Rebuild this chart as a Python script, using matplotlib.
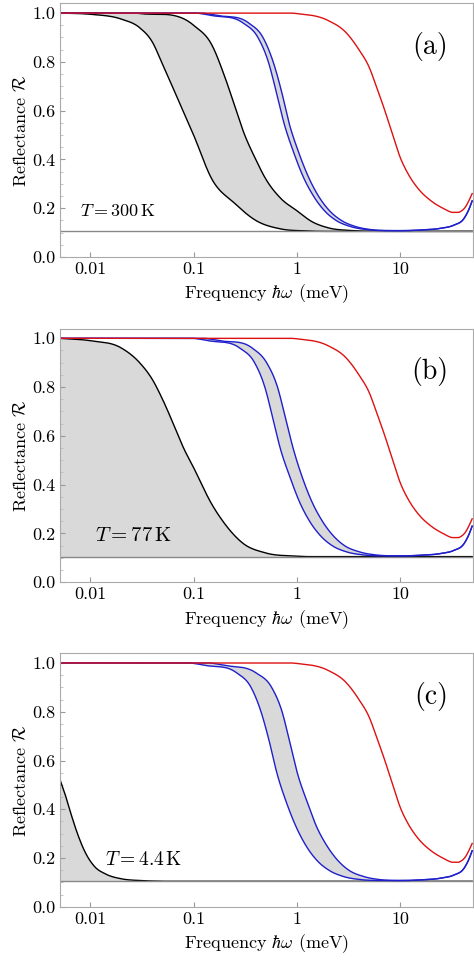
import matplotlib.pyplot as plt
import numpy as np

plt.rcParams['font.family'] = ['cmr10', 'DejaVu Serif']
plt.rcParams['mathtext.fontset'] = 'cm'
plt.rcParams['axes.formatter.use_mathtext'] = True

# red curve (same in all panels)
red_x = [0.005, 0.5, 1.0, 2.0, 3.0, 4.0, 5.0, 6.0, 7.0, 8.5, 10, 12, 15, 20, 26, 32, 38, 43, 47, 50]
red_y = [1.0, 1.0, 0.998, 0.97, 0.92, 0.85, 0.78, 0.69, 0.61, 0.5, 0.41, 0.34, 0.28, 0.23, 0.2, 0.183, 0.185, 0.205, 0.235, 0.26]

base_x = [0.005, 50]
base_y = [0.105, 0.105]

# blue pairs per panel share the same y values
blue_y = [1.0, 0.99, 0.96, 0.9, 0.8, 0.68, 0.55, 0.43, 0.33, 0.25, 0.19, 0.15, 0.125, 0.112, 0.108, 0.11, 0.118, 0.13, 0.16, 0.2, 0.23]
blue_a1 = [0.005, 0.15, 0.3, 0.42, 0.53, 0.63, 0.75, 0.93, 1.15, 1.45, 1.85, 2.4, 3.3, 4.8, 8, 15, 25, 33, 42, 47, 50]
blue_a2 = [0.005, 0.17, 0.34, 0.47, 0.59, 0.71, 0.84, 1.04, 1.29, 1.62, 2.07, 2.7, 3.7, 5.3, 8.5, 15, 25, 33, 42, 47, 50]
blue_b1 = [0.005, 0.14, 0.28, 0.39, 0.49, 0.58, 0.69, 0.86, 1.06, 1.33, 1.7, 2.2, 3.0, 4.4, 7.5, 15, 25, 33, 42, 47, 50]
blue_b2 = [0.005, 0.18, 0.37, 0.51, 0.65, 0.77, 0.92, 1.13, 1.4, 1.77, 2.26, 2.9, 4.0, 5.8, 9, 15, 25, 33, 42, 47, 50]
blue_c1 = [0.005, 0.13, 0.26, 0.36, 0.45, 0.54, 0.64, 0.79, 0.98, 1.23, 1.57, 2.05, 2.8, 4.1, 7, 15, 25, 33, 42, 47, 50]
blue_c2 = [0.005, 0.2, 0.4, 0.57, 0.72, 0.85, 1.01, 1.26, 1.55, 1.96, 2.5, 3.2, 4.4, 6.3, 9.5, 15, 25, 33, 42, 47, 50]

# black curves
blk_a1_x = [0.005, 0.01, 0.02, 0.03, 0.04, 0.05, 0.07, 0.1, 0.15, 0.25, 0.4, 0.7, 1.2, 3, 50]
blk_a1_y = [1.0, 0.995, 0.975, 0.94, 0.88, 0.79, 0.65, 0.5, 0.32, 0.22, 0.15, 0.115, 0.107, 0.105, 0.105]
blk_a2_x = [0.005, 0.03, 0.1, 0.15, 0.2, 0.25, 0.3, 0.4, 0.5, 0.7, 1.0, 1.4, 2.0, 3.5, 8, 50]
blk_a2_y = [1.0, 0.998, 0.95, 0.87, 0.74, 0.62, 0.52, 0.4, 0.32, 0.24, 0.19, 0.145, 0.12, 0.108, 0.105, 0.105]
blk_b_x = [0.005, 0.01, 0.02, 0.03, 0.04, 0.05, 0.065, 0.08, 0.1, 0.15, 0.2, 0.3, 0.5, 1.0, 3, 50]
blk_b_y = [1.0, 0.99, 0.96, 0.9, 0.83, 0.75, 0.64, 0.55, 0.47, 0.32, 0.24, 0.16, 0.12, 0.107, 0.105, 0.105]
blk_c_x = [0.005, 0.0057, 0.0065, 0.0075, 0.009, 0.011, 0.014, 0.02, 0.03, 0.05, 50]
blk_c_y = [0.53, 0.46, 0.38, 0.3, 0.22, 0.165, 0.135, 0.115, 0.108, 0.105, 0.105]

labels = ['(a)', '(b)', '(c)']
temps = [r'$T = 300\,\mathrm{K}$', r'$T = 77\,\mathrm{K}$', r'$T = 4.4\,\mathrm{K}$']
temp_size = [13, 15, 14]
temp_x = [0.008, 0.011, 0.014]
blues = [(blue_a1, blue_a2), (blue_b1, blue_b2), (blue_c1, blue_c2)]

GRID = np.logspace(np.log10(0.005), np.log10(50), 600)


def smooth(xs, ys):
    # cubic hermite through the read points, in log-x
    lx = np.log10(xs)
    ys = np.asarray(ys, float)
    m = np.gradient(ys, lx)
    g = np.log10(GRID)
    k = np.clip(np.searchsorted(lx, g) - 1, 0, len(lx) - 2)
    h = lx[k + 1] - lx[k]
    t = (g - lx[k]) / h
    h00 = 2 * t**3 - 3 * t**2 + 1
    h10 = t**3 - 2 * t**2 + t
    h01 = -2 * t**3 + 3 * t**2
    h11 = t**3 - t**2
    out = h00 * ys[k] + h10 * h * m[k] + h01 * ys[k + 1] + h11 * h * m[k + 1]
    return np.clip(out, min(ys), max(ys))


fig = plt.figure(figsize=(4.74, 9.72), dpi=100)
bottoms = [0.7356, 0.401, 0.067]
gray = '#d9d9d9'

for i in range(3):
    ax = fig.add_axes([0.127, bottoms[i], 0.871, 0.261])
    ax.set_xscale('log')
    ax.set_xlim(0.0051, 51)
    ax.set_ylim(0, 1.04)

    if i == 0:
        y1 = smooth(blk_a1_x, blk_a1_y)
        y2 = smooth(blk_a2_x, blk_a2_y)
        ax.fill_between(GRID, y1, y2, color=gray, lw=0)
        ax.plot(GRID, y1, color='black', lw=1)
        ax.plot(GRID, y2, color='black', lw=1)
    else:
        bx, by = (blk_b_x, blk_b_y) if i == 1 else (blk_c_x, blk_c_y)
        y1 = smooth(bx, by)
        ax.fill_between(GRID, 0.105, y1, color=gray, lw=0)
        ax.plot(GRID, y1, color='black', lw=1)

    ax.plot(base_x, base_y, color='#888888', lw=1)

    b1, b2 = blues[i]
    yb1 = smooth(b1, blue_y)
    yb2 = smooth(b2, blue_y)
    ax.fill_between(GRID, yb2, yb1, color=gray, lw=0)
    ax.plot(GRID, yb1, color='#1f1fcc', lw=1)
    ax.plot(GRID, yb2, color='#1f1fcc', lw=1)

    ax.plot(GRID, smooth(red_x, red_y), color='#dd1111', lw=1)

    ax.text(0.94, 0.8, labels[i], transform=ax.transAxes, ha='right', fontsize=20)
    ax.text(temp_x[i], 0.17, temps[i], fontsize=temp_size[i])

    ax.set_xticks([0.01, 0.1, 1, 10])
    ax.set_xticklabels(['0.01', '0.1', '1', '10'])
    ax.set_xticks([], minor=True)
    ax.set_yticks([0, 0.2, 0.4, 0.6, 0.8, 1.0])
    ax.set_yticklabels(['0.0', '0.2', '0.4', '0.6', '0.8', '1.0'])
    ax.set_yticks(np.arange(0, 1.04, 0.05), minor=True)
    ax.tick_params(direction='in', labelsize=13, colors='#999999', labelcolor='black')
    ax.tick_params(which='minor', direction='in', colors='#bbbbbb')
    for s in ax.spines.values():
        s.set_color('#aaaaaa')
    ax.set_xlabel(r'Frequency $\hbar\omega$ (meV)', fontsize=13)
    ax.set_ylabel(r'Reflectance $\mathcal{R}$', fontsize=13, labelpad=2)

fig.savefig('out.png', dpi=100)
